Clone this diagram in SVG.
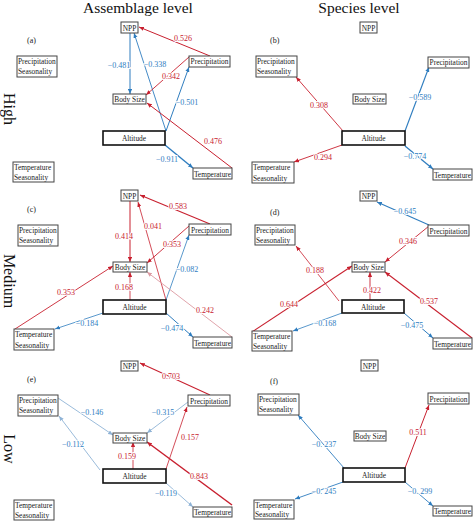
<svg xmlns="http://www.w3.org/2000/svg" width="474" height="521" viewBox="0 0 474 521">
<defs>
<marker id="ar" viewBox="0 0 6 5" refX="6" refY="2.5" markerWidth="5" markerHeight="4.5" markerUnits="userSpaceOnUse" orient="auto"><path d="M0,0 L6,2.5 L0,5 z" fill="#c8202f"/></marker>
<marker id="ab" viewBox="0 0 6 5" refX="6" refY="2.5" markerWidth="5" markerHeight="4.5" markerUnits="userSpaceOnUse" orient="auto"><path d="M0,0 L6,2.5 L0,5 z" fill="#2f7dbf"/></marker>
<marker id="apr" viewBox="0 0 6 5" refX="6" refY="2.5" markerWidth="5" markerHeight="4.5" markerUnits="userSpaceOnUse" orient="auto"><path d="M0,0 L6,2.5 L0,5 z" fill="#dc9aa2"/></marker>
<marker id="apb" viewBox="0 0 6 5" refX="6" refY="2.5" markerWidth="5" markerHeight="4.5" markerUnits="userSpaceOnUse" orient="auto"><path d="M0,0 L6,2.5 L0,5 z" fill="#8fb3d6"/></marker>
</defs>
<style>
text{font-family:"Liberation Serif","DejaVu Serif","Times New Roman",serif;}
.title{font-size:15.5px;fill:#111;text-anchor:middle;}
.row{font-size:16px;fill:#111;text-anchor:middle;}
.pl{font-size:8px;fill:#222;}
.box{fill:#fff;stroke:#444;stroke-width:1;}
.alt{fill:#fff;stroke:#111;stroke-width:1.6;}
.bt{font-size:7.4px;fill:#222;}
.btc{font-size:7.4px;fill:#222;text-anchor:middle;}
.r{stroke:#c8202f;fill:none;marker-end:url(#ar);}
.b{stroke:#2f7dbf;fill:none;marker-end:url(#ab);}
.pr{stroke:#dc9aa2;fill:none;marker-end:url(#apr);}
.pb{stroke:#8fb3d6;fill:none;marker-end:url(#apb);}
.lr,.lb{font-size:8px;text-anchor:middle;stroke:#fff;stroke-width:1.8;paint-order:stroke;}
.lr{fill:#c8202f;}
.lb{fill:#2f7dbf;}
</style>
<rect width="474" height="521" fill="#fff"/>
<g id="headings">
<text class="title" x="138" y="13">Assemblage level</text>
<text class="title" x="359" y="13">Species level</text>
<text class="row" transform="translate(4,109) rotate(90)">High</text>
<text class="row" transform="translate(4,281) rotate(90)">Medium</text>
<text class="row" transform="translate(4,449) rotate(90)">Low</text>
<text class="pl" x="27" y="43">(a)</text>
<text class="pl" x="270" y="43">(b)</text>
<text class="pl" x="27" y="212">(c)</text>
<text class="pl" x="270" y="215">(d)</text>
<text class="pl" x="27" y="382">(e)</text>
<text class="pl" x="270" y="384">(f)</text>
</g>
<g id="connectors">
<!-- a -->
<path class="b" stroke-width="1" d="M130,33 L130,94"/>
<path class="b" stroke-width="0.9" d="M166,131 L134,33"/>
<path class="r" stroke-width="1" d="M210,56 L139,27"/>
<path class="r" stroke-width="0.9" d="M189,57 L146,95"/>
<path class="b" stroke-width="1" d="M166,131 L189,67"/>
<path class="r" stroke-width="1" d="M232,168 L147,103"/>
<path class="b" stroke-width="1.4" d="M165,145 L193,168"/>
<text class="lb" x="119" y="68">−0.481</text>
<text class="lb" x="155" y="67">−0.338</text>
<text class="lr" x="183" y="41">0.526</text>
<text class="lr" x="171" y="79">0.342</text>
<text class="lb" x="187" y="105">−0.501</text>
<text class="lr" x="213" y="144">0.476</text>
<text class="lb" x="167" y="162">−0.911</text>
<!-- b -->
<path class="r" stroke-width="0.9" d="M343,131 L296,77"/>
<path class="r" stroke-width="0.9" d="M342,145 L294,162"/>
<path class="b" stroke-width="1.1" d="M405,131 L429,67"/>
<path class="b" stroke-width="1.3" d="M405,146 L433,169"/>
<text class="lr" x="319" y="108">0.308</text>
<text class="lr" x="323" y="160">0.294</text>
<text class="lb" x="420" y="100">−0.589</text>
<text class="lb" x="415" y="159">−0.774</text>
<!-- c -->
<path class="r" stroke-width="1" d="M130,201 L130,262"/>
<path class="r" stroke-width="0.8" d="M166,300 L138,202"/>
<path class="r" stroke-width="1.1" d="M210,224 L140,195"/>
<path class="r" stroke-width="0.9" d="M189,226 L147,263"/>
<path class="b" stroke-width="0.8" d="M166,300 L189,235"/>
<path class="pr" stroke-width="0.9" d="M232,337 L147,272"/>
<path class="r" stroke-width="0.9" d="M15,329 L113,266"/>
<path class="r" stroke-width="0.8" d="M130,300 L130,272"/>
<path class="b" stroke-width="0.8" d="M103,313 L55,329"/>
<path class="b" stroke-width="1" d="M166,313 L193,337"/>
<text class="lr" x="124" y="239">0.414</text>
<text class="lr" x="153" y="229">0.041</text>
<text class="lr" x="178" y="209">0.583</text>
<text class="lr" x="172" y="247">0.353</text>
<text class="lb" x="187" y="272">−0.082</text>
<text class="lr" x="205" y="313">0.242</text>
<text class="lr" x="66" y="295">0.353</text>
<text class="lr" x="124" y="290">0.168</text>
<text class="lb" x="87" y="326">−0.184</text>
<text class="lb" x="172" y="331">−0.474</text>
<!-- d -->
<path class="b" stroke-width="1.1" d="M429,225 L377,202"/>
<path class="r" stroke-width="0.9" d="M429,226 L385,262"/>
<path class="r" stroke-width="0.8" d="M339,301 L296,246"/>
<path class="r" stroke-width="1.1" d="M252,332 L352,266"/>
<path class="r" stroke-width="0.9" d="M370,300 L370,272"/>
<path class="r" stroke-width="1.1" d="M472,338 L385,272"/>
<path class="b" stroke-width="0.8" d="M342,313 L293,331"/>
<path class="b" stroke-width="1" d="M404,313 L433,338"/>
<text class="lb" x="405" y="214">−0.645</text>
<text class="lr" x="408" y="244">0.346</text>
<text class="lr" x="315" y="273">0.188</text>
<text class="lr" x="289" y="307">0.644</text>
<text class="lr" x="372" y="293">0.422</text>
<text class="lr" x="429" y="304">0.537</text>
<text class="lb" x="325" y="326">−0.168</text>
<text class="lb" x="412" y="328">−0.475</text>
<!-- e -->
<path class="r" stroke-width="1.1" d="M210,395 L140,363"/>
<path class="pb" stroke-width="0.9" d="M58,398 L113,435"/>
<path class="pb" stroke-width="0.9" d="M188,402 L147,433"/>
<path class="pb" stroke-width="0.9" d="M100,470 L59,416"/>
<path class="r" stroke-width="0.8" d="M133,469 L133,442"/>
<path class="r" stroke-width="0.8" d="M166,469 L187,407"/>
<path class="r" stroke-width="1.5" d="M232,505 L147,442"/>
<path class="pb" stroke-width="0.9" d="M166,483 L193,507"/>
<text class="lr" x="171" y="379">0.703</text>
<text class="lb" x="92" y="415">−0.146</text>
<text class="lb" x="163" y="415">−0.315</text>
<text class="lb" x="73" y="447">−0.112</text>
<text class="lr" x="127" y="459">0.159</text>
<text class="lr" x="190" y="440">0.157</text>
<text class="lr" x="199" y="479">0.843</text>
<text class="lb" x="166" y="496">−0.119</text>
<!-- f -->
<path class="b" stroke-width="0.9" d="M344,468 L298,415"/>
<path class="b" stroke-width="0.9" d="M343,482 L295,499"/>
<path class="r" stroke-width="1" d="M405,468 L429,405"/>
<path class="b" stroke-width="0.9" d="M405,482 L433,506"/>
<text class="lb" x="324" y="447">−0. 237</text>
<text class="lb" x="324" y="494">−0. 245</text>
<text class="lr" x="418" y="435">0.511</text>
<text class="lb" x="420" y="494">−0. 299</text>
</g>
<!-- panel a nodes -->
<g id="a-npp"><rect class="box" x="121" y="22" width="17" height="11"/><text class="btc" x="129.5" y="30.5">NPP</text></g>
<g id="a-precseas"><rect class="box" x="17" y="56" width="40" height="21"/><text class="bt" x="18" y="64">Precipitation</text><text class="bt" x="18" y="74">Seasonality</text></g>
<g id="a-precip"><rect class="box" x="189" y="56" width="41" height="11"/><text class="btc" x="209.5" y="64">Precipitation</text></g>
<g id="a-body"><rect class="box" x="113" y="94" width="33" height="10"/><text class="btc" x="129.5" y="102">Body Size</text></g>
<g id="a-alt"><rect class="alt" x="103" y="131" width="62" height="14"/><text class="btc" x="134" y="141">Altitude</text></g>
<g id="a-tempseas"><rect class="box" x="13" y="162" width="41" height="20"/><text class="bt" x="14" y="170">Temperature</text><text class="bt" x="14" y="180">Seasonality</text></g>
<g id="a-temp"><rect class="box" x="193" y="168" width="39" height="11"/><text class="btc" x="212.5" y="176.5">Temperature</text></g>
<!-- panel b nodes -->
<g id="b-npp"><rect class="box" x="360" y="22" width="17" height="11"/><text class="btc" x="368.5" y="30.5">NPP</text></g>
<g id="b-precseas"><rect class="box" x="256" y="56" width="41" height="21"/><text class="bt" x="257" y="64">Precipitation</text><text class="bt" x="257" y="74">Seasonality</text></g>
<g id="b-precip"><rect class="box" x="428" y="57" width="41" height="11"/><text class="btc" x="448.5" y="65">Precipitation</text></g>
<g id="b-body"><rect class="box" x="353" y="94" width="33" height="10"/><text class="btc" x="369.5" y="102">Body Size</text></g>
<g id="b-alt"><rect class="alt" x="342" y="131" width="63" height="14"/><text class="btc" x="373.5" y="141">Altitude</text></g>
<g id="b-tempseas"><rect class="box" x="252" y="162" width="42" height="21"/><text class="bt" x="253" y="170">Temperature</text><text class="bt" x="253" y="180.5">Seasonality</text></g>
<g id="b-temp"><rect class="box" x="433" y="169" width="39" height="11"/><text class="btc" x="452.5" y="177.5">Temperature</text></g>
<!-- panel c nodes -->
<g id="c-npp"><rect class="box" x="121" y="190" width="17" height="11"/><text class="btc" x="129.5" y="198.5">NPP</text></g>
<g id="c-precseas"><rect class="box" x="18" y="225" width="40" height="21"/><text class="bt" x="19" y="233">Precipitation</text><text class="bt" x="19" y="243">Seasonality</text></g>
<g id="c-precip"><rect class="box" x="189" y="224" width="42" height="11"/><text class="btc" x="210" y="232.5">Precipitation</text></g>
<g id="c-body"><rect class="box" x="113" y="262" width="34" height="10"/><text class="btc" x="130" y="270">Body Size</text></g>
<g id="c-alt"><rect class="alt" x="103" y="300" width="63" height="14"/><text class="btc" x="134.5" y="310">Altitude</text></g>
<g id="c-tempseas"><rect class="box" x="14" y="329" width="40" height="21"/><text class="bt" x="15" y="337">Temperature</text><text class="bt" x="15" y="347.5">Seasonality</text></g>
<g id="c-temp"><rect class="box" x="193" y="337" width="39" height="11"/><text class="btc" x="212.5" y="345.5">Temperature</text></g>
<!-- panel d nodes -->
<g id="d-npp"><rect class="box" x="360" y="191" width="17" height="10"/><text class="btc" x="368.5" y="199">NPP</text></g>
<g id="d-precseas"><rect class="box" x="255" y="225" width="40" height="20"/><text class="bt" x="256" y="233">Precipitation</text><text class="bt" x="256" y="242.5">Seasonality</text></g>
<g id="d-precip"><rect class="box" x="428" y="225" width="41" height="11"/><text class="btc" x="448.5" y="233.5">Precipitation</text></g>
<g id="d-body"><rect class="box" x="352" y="262" width="33" height="10"/><text class="btc" x="368.5" y="270">Body Size</text></g>
<g id="d-alt"><rect class="alt" x="342" y="300" width="62" height="13"/><text class="btc" x="373" y="309.5">Altitude</text></g>
<g id="d-tempseas"><rect class="box" x="252" y="331" width="40" height="20"/><text class="bt" x="253" y="339">Temperature</text><text class="bt" x="253" y="349">Seasonality</text></g>
<g id="d-temp"><rect class="box" x="433" y="338" width="39" height="11"/><text class="btc" x="452.5" y="346.5">Temperature</text></g>
<!-- panel e nodes -->
<g id="e-npp"><rect class="box" x="121" y="361" width="17" height="10"/><text class="btc" x="129.5" y="369">NPP</text></g>
<g id="e-precseas"><rect class="box" x="18" y="395" width="40" height="21"/><text class="bt" x="19" y="403">Precipitation</text><text class="bt" x="19" y="413">Seasonality</text></g>
<g id="e-precip"><rect class="box" x="188" y="395" width="42" height="11"/><text class="btc" x="209" y="403.5">Precipitation</text></g>
<g id="e-body"><rect class="box" x="113" y="433" width="34" height="10"/><text class="btc" x="130" y="441">Body Size</text></g>
<g id="e-alt"><rect class="alt" x="103" y="469" width="63" height="14"/><text class="btc" x="134.5" y="479">Altitude</text></g>
<g id="e-tempseas"><rect class="box" x="14" y="500" width="40" height="20"/><text class="bt" x="15" y="508">Temperature</text><text class="bt" x="15" y="518">Seasonality</text></g>
<g id="e-temp"><rect class="box" x="193" y="507" width="39" height="10"/><text class="btc" x="212.5" y="515">Temperature</text></g>
<!-- panel f nodes -->
<g id="f-npp"><rect class="box" x="361" y="360" width="17" height="11"/><text class="btc" x="369.5" y="368.5">NPP</text></g>
<g id="f-precseas"><rect class="box" x="258" y="394" width="41" height="21"/><text class="bt" x="259" y="402">Precipitation</text><text class="bt" x="259" y="412">Seasonality</text></g>
<g id="f-precip"><rect class="box" x="428" y="393" width="41" height="11"/><text class="btc" x="448.5" y="401.5">Precipitation</text></g>
<g id="f-body"><rect class="box" x="354" y="431" width="32" height="10"/><text class="btc" x="370" y="439">Body Size</text></g>
<g id="f-alt"><rect class="alt" x="343" y="468" width="62" height="14"/><text class="btc" x="374" y="478">Altitude</text></g>
<g id="f-tempseas"><rect class="box" x="254" y="500" width="40" height="19"/><text class="bt" x="255" y="508">Temperature</text><text class="bt" x="255" y="517">Seasonality</text></g>
<g id="f-temp"><rect class="box" x="433" y="506" width="39" height="10"/><text class="btc" x="452.5" y="514">Temperature</text></g>
</svg>
